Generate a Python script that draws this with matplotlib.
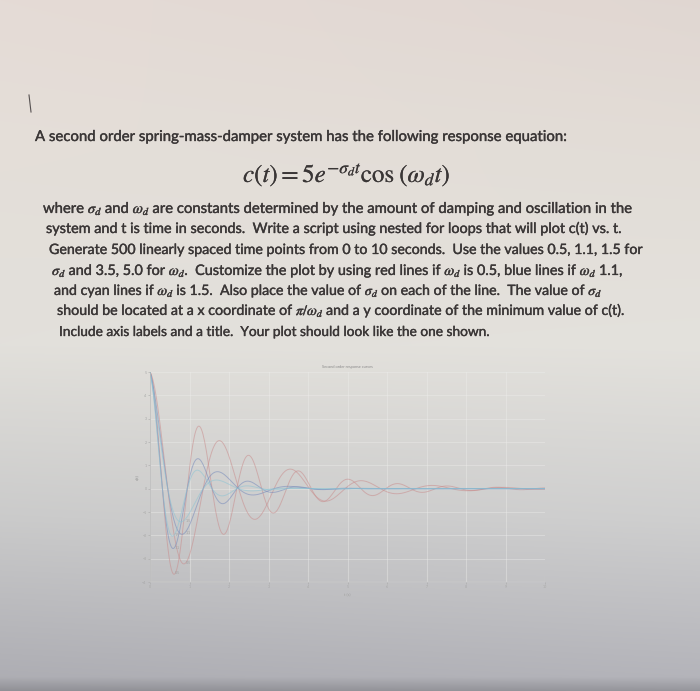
import numpy as np
import matplotlib.pyplot as plt
import matplotlib.patheffects as pe
from matplotlib.lines import Line2D

plt.rcParams['font.family'] = ['Lato', 'DejaVu Sans']
plt.rcParams['mathtext.fontset'] = 'stix'

W, H = 700, 691

# problem values (shown on the page)
sigma_vals = [0.5, 1.1, 1.5]
omega_vals = [3.5, 5.0]
t_start, t_stop, n_points = 0, 10, 500
sigma_colors = ['#c98d8d', '#7589bb', '#8cc4d4']
x_ticks = list(range(0, 11))
y_ticks = list(range(-4, 6))

header = "A second order spring-mass-damper system has the following response equation:"
equation = r"$c(t) = 5e^{-\sigma_d t}\mathrm{cos}\;(\omega_d t)$"
para = [
    r"where $\sigma_d$ and $\omega_d$ are constants determined by the amount of damping and oscillation in the",
    "system and t is time in seconds.  Write a script using nested for loops that will plot c(t) vs. t.",
    "Generate 500 linearly spaced time points from 0 to 10 seconds.  Use the values 0.5, 1.1, 1.5 for",
    r"$\sigma_d$ and 3.5, 5.0 for $\omega_d$.  Customize the plot by using red lines if $\omega_d$ is 0.5, blue lines if $\omega_d$ 1.1,",
    r"and cyan lines if $\omega_d$ is 1.5.  Also place the value of $\sigma_d$ on each of the line.  The value of $\sigma_d$",
    r"should be located at a x coordinate of $\pi/\omega_d$ and a y coordinate of the minimum value of c(t).",
    "Include axis labels and a title.  Your plot should look like the one shown.",
]
# (left px, right px, baseline px) for each paragraph line
para_box = [(43, 633, 213), (46, 622, 233), (49, 643, 254), (52, 623, 275),
            (54, 602, 295), (57, 625, 315), (59, 490, 336)]

fig = plt.figure(figsize=(W / 100, H / 100), dpi=100)

# photo-like paper background
bg = fig.add_axes([0, 0, 1, 1])
yy = np.linspace(0, 1, H)[:, None]
xx = np.linspace(0, 1, W)[None, :]
stops_y = [0.0, 0.2, 0.5, 0.75, 0.98, 1.0]
stops_c = [(229, 219, 214), (230, 224, 218), (230, 228, 223), (208, 208, 208),
           (180, 180, 186), (150, 150, 156)]
img = np.zeros((H, W, 3))
for k in range(3):
    col = np.interp(yy[:, 0], stops_y, [c[k] for c in stops_c])[:, None]
    img[:, :, k] = col * (1 - 0.035 * (1 - xx) * yy) * (1 - 0.02 * xx * (1 - yy))
bg.imshow(np.clip(img / 255, 0, 1), aspect='auto', extent=[0, 1, 0, 1], zorder=0)
bg.set_axis_off()

txt_color = '#3a3636'
fig.canvas.draw()
rend = fig.canvas.get_renderer()


def fit_text(s, x0, x1, yb, stroke=0.25):
    t = fig.text(x0 / W, 1 - yb / H, s, fontsize=10, ha='left', va='baseline',
                 color=txt_color,
                 path_effects=[pe.withStroke(linewidth=stroke, foreground=txt_color)])
    w = t.get_window_extent(rend).width
    t.set_fontsize(10 * (x1 - x0) / w)
    return t


fit_text(header, 35, 568, 141)
fit_text(equation, 243, 452, 182, stroke=0.1)
for s, (x0, x1, yb) in zip(para, para_box):
    fit_text(s, x0, x1, yb)

# text cursor mark
fig.add_artist(Line2D([29 / W, 31 / W], [1 - 95 / H, 1 - 112 / H],
                      transform=fig.transFigure, color='#555050', lw=0.8))

# faint plot on the page
ax = fig.add_axes([150 / W, 1 - 582 / H, 395 / W, 210 / H])
ax.patch.set_alpha(0)
t = np.linspace(t_start, t_stop, n_points)
for sig, col in zip(sigma_vals, sigma_colors):
    for om in omega_vals:
        c = 5 * np.exp(-sig * t) * np.cos(om * t)
        ax.plot(t, c, color=col, lw=0.7, alpha=0.55)
        ax.text(np.pi / om, c.min(), str(sig), fontsize=2.6, color='#a0a0a0')
ax.set_xlim(0, 10)
ax.set_ylim(-4, 5)
ax.set_xticks(x_ticks)
ax.set_yticks(y_ticks)
ax.grid(True, color='#eeeeec', lw=0.8, alpha=0.4)
ax.set_title('Second order response curves', fontsize=2.8, color='#8a8a8a', pad=3)
ax.set_xlabel('t (s)', fontsize=3, color='#a0a0a0', labelpad=2)
ax.set_ylabel('c(t)', fontsize=3, color='#909090', labelpad=2)
ax.tick_params(labelsize=2.6, colors='#a8a8a8', length=1.5, width=0.4, pad=1)
for side in ['top', 'right']:
    ax.spines[side].set_visible(False)
ax.spines['left'].set_color('#b8b8b8')
ax.spines['left'].set_linewidth(0.5)
ax.spines['bottom'].set_color('#d0d0d0')
ax.spines['bottom'].set_linewidth(0.3)

fig.savefig('out.png', dpi=100)
